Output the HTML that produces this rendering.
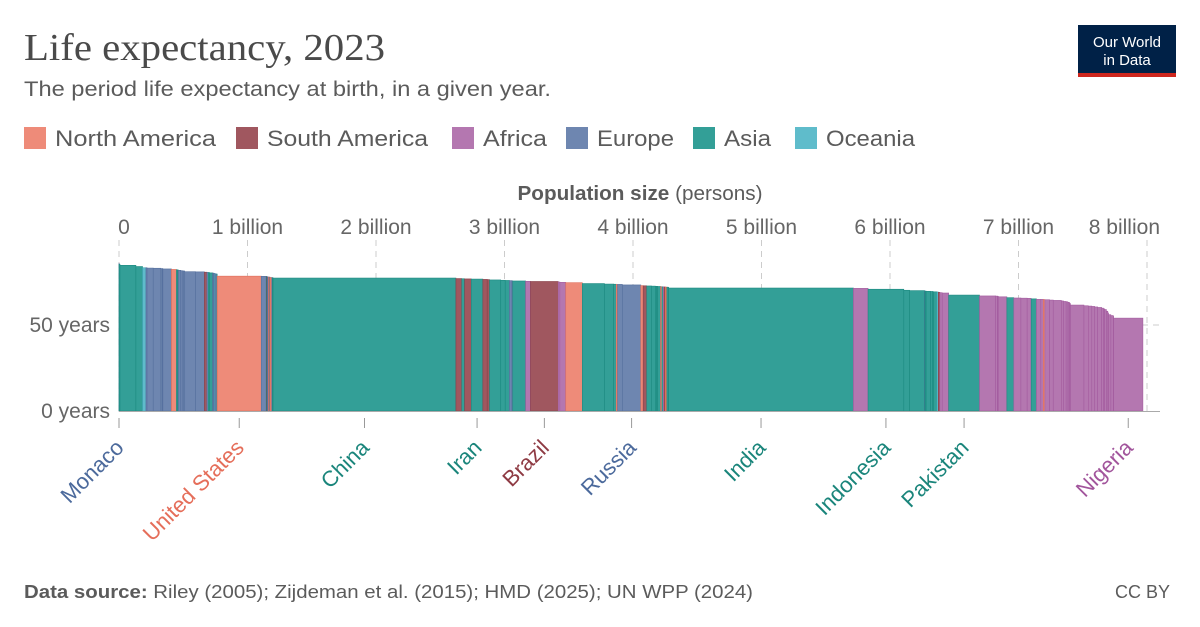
<!DOCTYPE html>
<html><head><meta charset="utf-8"><style>
body{margin:0;background:#fff;width:1200px;height:627px;overflow:hidden;font-family:"Liberation Sans",sans-serif}
svg{display:block}
</style></head><body>
<svg id="c" width="1200" height="627">
<text x="24" y="60" font-family="Liberation Serif,serif" font-size="38" fill="#4a4a4a" textLength="361" lengthAdjust="spacingAndGlyphs">Life expectancy, 2023</text>
<text x="24" y="96" font-size="21" fill="#5b5b5b" textLength="527" lengthAdjust="spacingAndGlyphs">The period life expectancy at birth, in a given year.</text>
<g>
<rect x="1078" y="25" width="98" height="52" fill="#002147"/>
<rect x="1078" y="73" width="98" height="4" fill="#ce261e"/>
<text x="1127" y="47" font-size="15" fill="#fff" text-anchor="middle">Our World</text>
<text x="1127" y="65" font-size="15" fill="#fff" text-anchor="middle">in Data</text>
</g>
<g id="legend"></g>
<text x="640" y="200" font-size="20" fill="#5b5b5b" text-anchor="middle" textLength="245" lengthAdjust="spacingAndGlyphs"><tspan font-weight="bold">Population size</tspan> (persons)</text>
<g id="grid"></g>
<g id="bars"></g>
<g id="axes"></g>
<text x="24" y="598" font-size="18" fill="#5b5b5b" textLength="729" lengthAdjust="spacingAndGlyphs"><tspan font-weight="bold">Data source:</tspan> Riley (2005); Zijdeman et al. (2015); HMD (2025); UN WPP (2024)</text>
<text x="1170" y="598" font-size="18" fill="#5b5b5b" text-anchor="end">CC BY</text>
</svg>
<script>
const names=["Monaco","Hong Kong","Japan","South Korea","Australia","Switzerland","Spain","Italy","Sweden","Norway","France","Canada","Israel","Singapore","Netherlands","Belgium","Austria","Portugal","Germany","United Kingdom","Chile","Greece","UAE","Taiwan","Denmark","Finland","Ireland","New Zealand","Czechia","Qatar",
"United States","Poland","Oman","Uruguay","Croatia","Slovakia","Costa Rica","Panama","Bahrain","Albania","Cuba","Bosnia","North Macedonia","Lebanon",
"China","Argentina","Sri Lanka","Colombia","Iran","Peru","Ecuador","Turkey","Malaysia","Saudi Arabia","Romania","Serbia","Vietnam","Morocco",
"Brazil","Tunisia","Algeria","Mexico","Bangladesh","Thailand","Kazakhstan","Honduras","Ukraine","Russia","Guatemala","Venezuela","Uzbekistan","Nepal","Azerbaijan","Kyrgyzstan","Syria","Dominican Republic","Jordan","Libya","Paraguay","El Salvador","Nicaragua","Tajikistan","Georgia",
"India","Egypt","Indonesia","Iraq","Philippines","Mongolia","Moldova","Turkmenistan","Yemen","Cambodia","Laos","North Korea","Papua New Guinea","Bolivia","Senegal","Sudan",
"Pakistan","Ethiopia","Rwanda","Eritrea","Gabon","Tanzania","Myanmar","Kenya","Uganda","Madagascar","Afghanistan",
"Ghana","Zambia","Haiti","Angola","Cameroon","South Africa","Zimbabwe","Malawi","Burundi","Togo","Congo","Liberia","DR Congo","Mozambique","Niger","Burkina Faso","Mali","Cote d'Ivoire","Guinea","Sierra Leone","Benin","South Sudan","CAR","Somalia","Chad","Lesotho","Nigeria"];
const pops=[0.04,7.5,124,51.7,26.4,8.8,47.9,59,10.5,5.5,66.4,39.3,9.3,5.9,18,11.8,9.1,10.4,84.5,68.7,19.6,10.4,10.6,23.4,5.9,5.6,5.2,5.2,10.8,2.7,
343,38.8,5,3.4,3.9,5.4,5.2,4.5,1.5,2.8,11,3.2,1.8,5.4,
1423,45.5,22,52,90,34,18,87,35,33,19,6.7,100,38,
216,12.5,46,129,172,71.7,20,10.6,37,144,18,28,36,30.9,10.4,7,23,11,11,7,6.9,6.3,7,10,3.8,
1438,114,278,45,115,3.4,3,7.4,34,17,7.6,26,10.3,12.4,18,50,
240,126,14,3.7,2.4,67,54,55,49,31,41,
34,20,11.7,36.7,28.6,63,16.3,21,13,9,6,5.4,105,34,27,23,23,31,14,8.8,14,11,5.7,18,19,2.3,228];
const lifeExp=[85.8,85.3,84.7,84.0,83.3,83.3,83.1,83.0,82.8,82.8,82.6,82.3,82.1,82.0,81.8,81.6,81.5,81.4,81.0,80.9,80.7,80.6,80.5,80.3,80.2,80.1,80.0,79.9,79.7,79.6,
78.4,78.3,78.2,78.1,78.0,77.9,77.9,77.8,77.8,77.7,77.6,77.6,77.5,77.5,
77.3,77.0,76.9,76.8,76.7,76.5,76.4,76.2,76.0,75.9,75.8,75.7,75.6,75.4,
75.3,75.0,74.8,74.6,74.1,73.8,73.7,73.6,73.6,73.3,72.9,72.8,72.7,72.6,72.5,72.5,72.4,72.3,72.2,72.2,72.1,72.1,72.0,72.0,71.9,
71.5,71.3,70.8,70.2,70.0,69.9,69.8,69.7,69.6,69.5,69.4,69.3,69.2,69.0,68.8,68.6,
67.4,66.9,66.8,66.7,66.7,66.4,65.9,65.7,65.6,65.5,65.2,
64.9,64.9,64.8,64.7,64.5,64.3,64.0,63.7,63.5,63.2,63.0,62.5,61.6,61.2,61.0,60.8,60.5,60.2,59.8,59.4,59.0,58.0,57.0,56.0,55.5,55.0,54.0];
const regions=["EU","AS","AS","AS","OC","EU","EU","EU","EU","EU","EU","NA","AS","AS","EU","EU","EU","EU","EU","EU","SA","EU","AS","AS","EU","EU","EU","OC","EU","AS",
"NA","EU","AS","SA","EU","EU","NA","NA","AS","EU","NA","EU","EU","AS",
"AS","SA","AS","SA","AS","SA","SA","AS","AS","AS","EU","EU","AS","AF",
"SA","AF","AF","NA","AS","AS","AS","NA","EU","EU","NA","SA","AS","AS","AS","AS","AS","NA","AS","AF","SA","NA","NA","AS","AS",
"AS","AF","AS","AS","AS","AS","EU","AS","AS","AS","AS","AS","OC","SA","AF","AF",
"AS","AF","AF","AF","AF","AF","AS","AF","AF","AF","AS",
"AF","AF","NA","AF","AF","AF","AF","AF","AF","AF","AF","AF","AF","AF","AF","AF","AF","AF","AF","AF","AF","AF","AF","AF","AF","AF","AF"];
const xTicks=[0,1,2,3,4,5,6,7,8];
const xTickLabels=["0","1 billion","2 billion","3 billion","4 billion","5 billion","6 billion","7 billion","8 billion"];
const yTicks=[0,50];
const labelled=["Monaco","United States","China","Iran","Brazil","Russia","India","Indonesia","Pakistan","Nigeria"];
const legendKeys=["NA","SA","AF","EU","AS","OC"];
const legendNames=["North America","South America","Africa","Europe","Asia","Oceania"];
</script>
<script>
const fill={NA:"#ee8b79",SA:"#a0575f",AF:"#b477b0",EU:"#6e86b0",AS:"#339f97",OC:"#5fbccb"};
const strokeC={NA:"#e06c58",SA:"#883f48",AF:"#a35c9f",EU:"#56709e",AS:"#1c8a80",OC:"#44a8b8"};
const labC={NA:"#e56e5a",SA:"#8e3a43",AF:"#a2559c",EU:"#4c6a9c",AS:"#1a857b",OC:"#2f98a8"};
const legX=[24,236,452,566,693,795];
const legW=[161,161,64,77,47,89];
const NS="http://www.w3.org/2000/svg";
const X0=119,PXB=128.5,Y0=411,PXY=1.72;
const xs=v=>X0+v*PXB/1000;
const ys=v=>Y0-v*PXY;
function mk(t,a,p){const e=document.createElementNS(NS,t);for(const k in a)e.setAttribute(k,a[k]);p.appendChild(e);return e;}
const grid=document.getElementById('grid'),bars=document.getElementById('bars'),axes=document.getElementById('axes'),leg=document.getElementById('legend');
legendKeys.forEach((k,i)=>{
  const g=mk('g',{},leg);
  
  
  mk('rect',{x:legX[i],y:127,width:22,height:22,fill:fill[k]},g);
  const t=mk('text',{x:legX[i]+31,y:146,'font-size':22,fill:'#5b5b5b',textLength:legW[i],lengthAdjust:'spacingAndGlyphs'},g);t.textContent=legendNames[i];
});
xTicks.forEach((b,i)=>{
  const x=xs(b*1000);
  const l=mk('line',{x1:x,x2:x,y1:240,y2:Y0,stroke:'#ccc','stroke-dasharray':'6,5'},grid);
  
  
  let tx=x,anc='middle';
  if(i==0){tx=x+5;}
  if(i==xTicks.length-1){tx=1160;anc='end';}
  const t=mk('text',{x:tx,y:234,'font-size':21,fill:'#666','text-anchor':anc},axes);
  t.textContent=xTickLabels[i];
  
  
});
yTicks.forEach(v=>{
  const y=ys(v);
  if(v>0){const l=mk('line',{x1:X0,x2:1160,y1:y,y2:y,stroke:'#ccc','stroke-dasharray':'6,5'},grid);
  
  }
  const t=mk('text',{x:110,y:y+7,'font-size':21,fill:'#666','text-anchor':'end'},axes);
  t.textContent=v+' years';
  
  
});
let cum=0;
names.forEach((n,i)=>{
  const x1=xs(cum),x2=xs(cum+pops[i]);
  const r=mk('rect',{x:x1,y:ys(lifeExp[i]),width:Math.max(x2-x1,0.3),height:ys(0)-ys(lifeExp[i]),fill:fill[regions[i]],stroke:strokeC[regions[i]],'stroke-width':0.6},bars);
  
  
  if(labelled.includes(n)){
    const cx=(x1+x2)/2;
    mk('line',{x1:cx,x2:cx,y1:418,y2:428,stroke:'#999'},axes);
    const t=mk('text',{x:cx+6,y:449,'font-size':22,fill:labC[regions[i]],'text-anchor':'end',transform:`rotate(-45 ${cx+6} 449)`},axes);
    t.textContent=n;
    
    
  }
  cum+=pops[i];
});
const b=mk('line',{x1:X0,x2:1160,y1:Y0+0.5,y2:Y0+0.5,stroke:'#aaa'},axes);


</script>
</body></html>
